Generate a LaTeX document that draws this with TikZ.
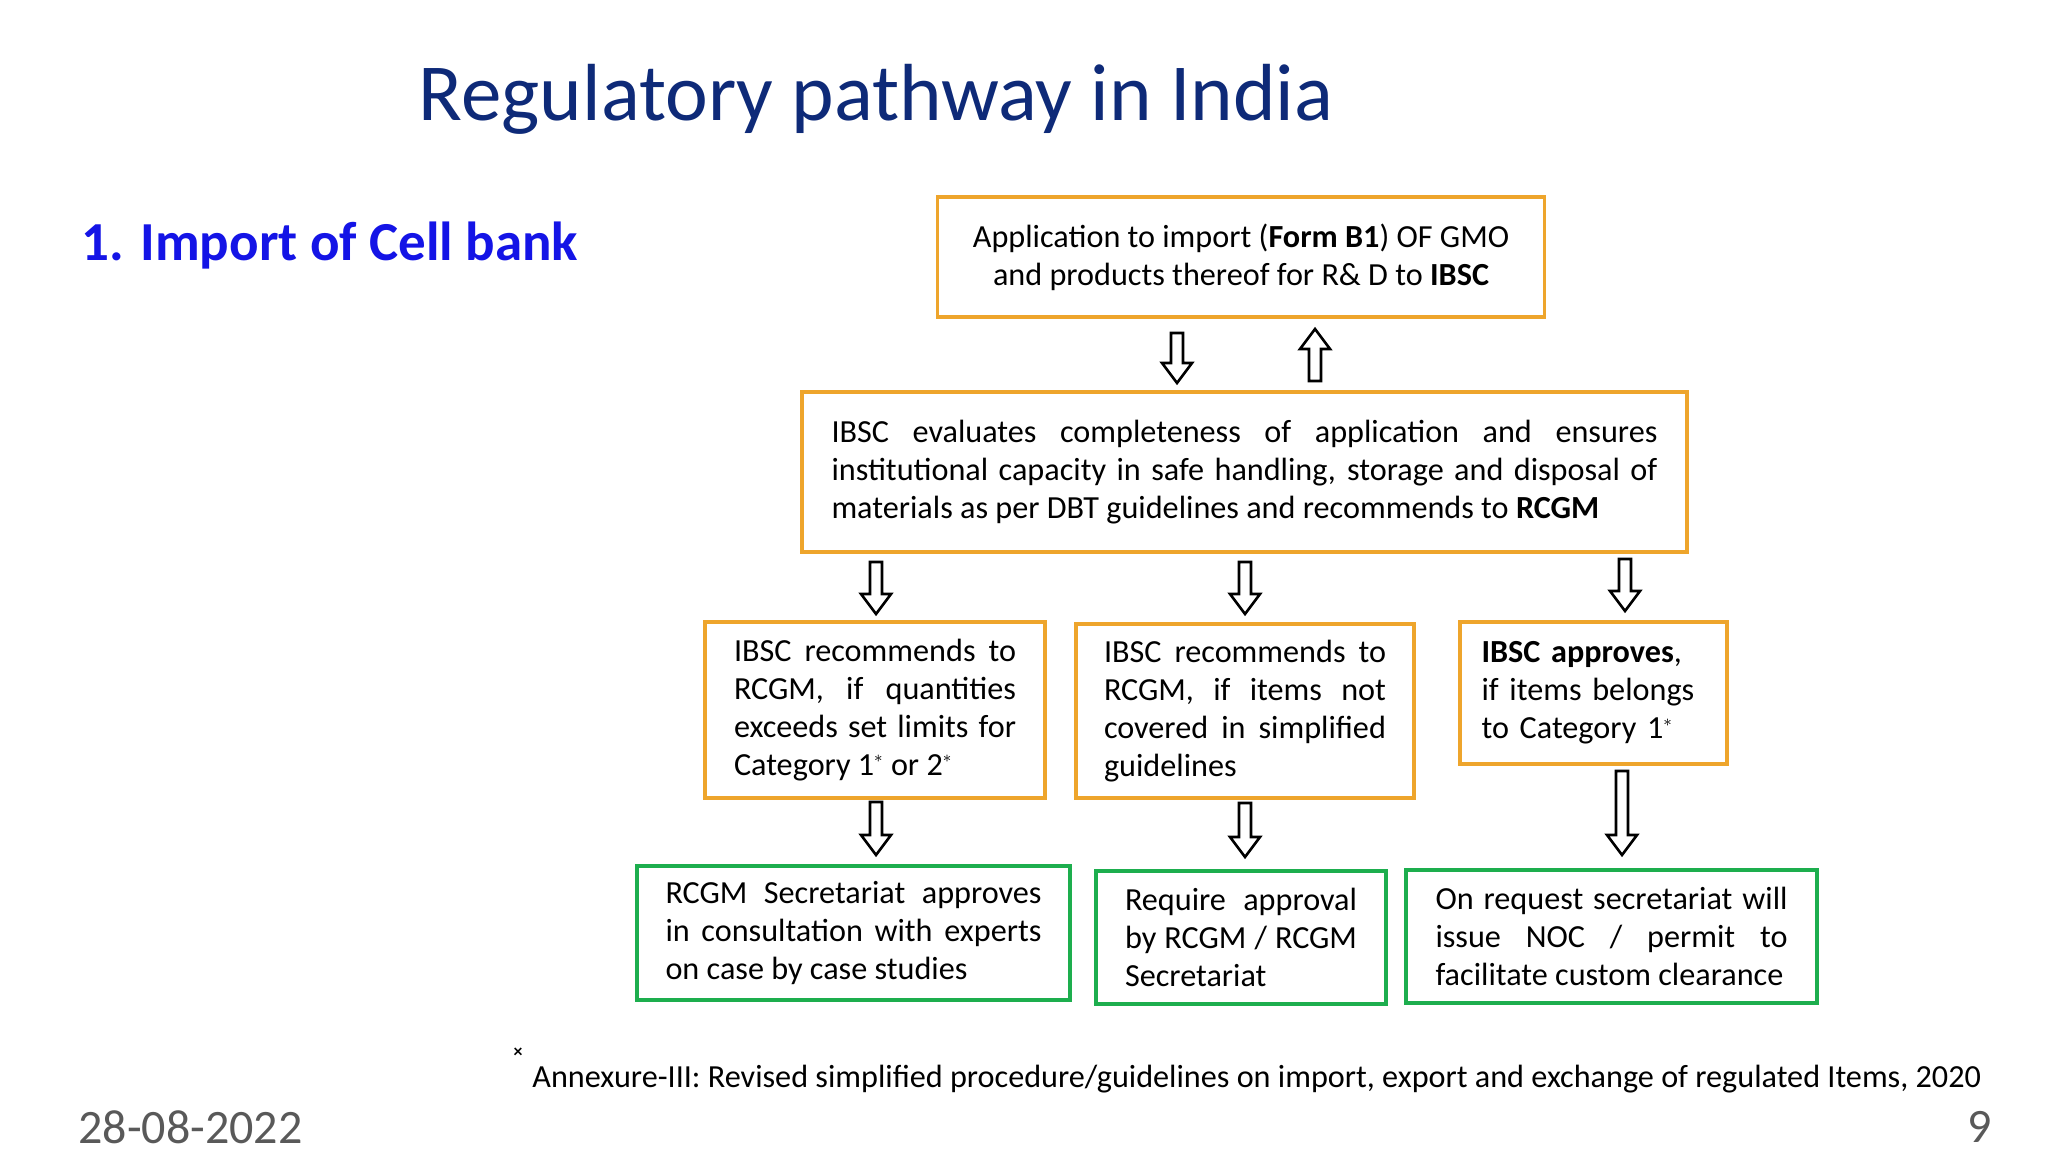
\documentclass[tikz,border=0pt]{standalone}
\usepackage{fontspec}
\setmainfont{Carlito}
\hyphenpenalty=10000
\definecolor{org}{HTML}{EEA52C}
\definecolor{grn}{HTML}{1DAE4E}
\definecolor{navy}{HTML}{0E2A78}
\definecolor{hblue}{HTML}{1414E6}
\definecolor{gry}{HTML}{595959}
\newcommand\barrow[4]{% x, ystart, yheadbase, yend
  \draw[line width=1.3pt,fill=white,line join=miter]
   (#1-6,#2) -- (#1-6,#3) -- (#1-15,#3) -- (#1,#4) -- (#1+15,#3) -- (#1+6,#3) -- (#1+6,#2) -- cycle;}
\newcommand\fnast{\textsuperscript{$\scriptstyle*$}}
\begin{document}
\begin{tikzpicture}[x=0.5pt,y=-0.5pt,
  box/.style={draw=org,line width=1.6pt,font=\fontsize{16.1}{19}\selectfont,inner sep=0pt},
  gbox/.style={box,draw=grn}]
\useasboundingbox (0,0) rectangle (2048,1152);
\node[font=\fontsize{40.5}{44}\selectfont,text=navy] (title) at (876,99) {Regulatory pathway in India};
\node[font=\fontsize{27.5}{30}\selectfont\bfseries,text=hblue,anchor=west,inner sep=0pt] (head) at (81,246) {1. Import of Cell bank};
\node[box,minimum width=303.5pt,minimum height=60pt,align=center] (A) at (1241,257)
 {Application to import (\textbf{Form B1}) OF GMO\\and products thereof for R\& D to \textbf{IBSC}};
\node[box,minimum width=442.5pt,minimum height=80pt,text width=413pt,align=justify] (B) at (1244.5,472)
 {IBSC evaluates completeness of application and ensures\linebreak institutional capacity in safe handling, storage and disposal of\linebreak materials as per DBT guidelines and recommends to \textbf{RCGM}};
\node[box,minimum width=170pt,minimum height=88pt,text width=141pt,align=justify] (C1) at (875,710)
 {IBSC recommends to\linebreak RCGM, if quantities\linebreak exceeds set limits for\linebreak Category 1\fnast{} or 2\fnast};
\node[box,minimum width=169pt,minimum height=87pt,text width=141pt,align=justify] (C2) at (1245,711)
 {IBSC recommends to\linebreak RCGM, if items not\linebreak covered in simplified\linebreak guidelines};
\node[box,minimum width=133.5pt,minimum height=71pt,text width=112pt,align=left] (C3) at (1593.5,693)
 {\textbf{IBSC approves},\\if items belongs\\to Category 1\fnast};
\node[gbox,minimum width=216.5pt,minimum height=67pt,text width=188pt,align=justify] (D1) at (853.5,933)
 {RCGM Secretariat approves\linebreak in consultation with experts\linebreak on case by case studies};
\node[gbox,minimum width=145pt,minimum height=66.5pt,text width=116pt,align=justify] (D2) at (1241,937.5)
 {Require approval\linebreak by RCGM / RCGM\linebreak Secretariat};
\node[gbox,minimum width=205.5pt,minimum height=66.5pt,text width=176pt,align=justify] (D3) at (1611.5,936.5)
 {On request secretariat will\linebreak issue NOC / permit to\linebreak facilitate custom clearance};
\barrow{1177}{333}{363}{383}
\barrow{1315}{381}{349}{329}
\barrow{876}{562}{594}{614}
\barrow{1245}{562}{594}{614}
\barrow{1625}{559}{591}{611}
\barrow{876}{802}{835}{855}
\barrow{1245}{803}{837}{857}
\barrow{1622}{771}{835}{855}
\node[font=\fontsize{9}{10}\selectfont\bfseries,anchor=center] (x) at (518,1053) {×};
\node[font=\fontsize{16.1}{18}\selectfont,anchor=west,inner sep=0pt] (foot) at (532,1079)
 {Annexure-III: Revised simplified procedure/guidelines on import, export and exchange of regulated Items, 2020};
\node[font=\fontsize{24}{26}\selectfont,text=gry,anchor=west,inner sep=0pt] (date) at (78,1127) {28-08-2022};
\node[font=\fontsize{24}{26}\selectfont,text=gry,anchor=east,inner sep=0pt] (pg) at (1992,1127) {9};
\end{tikzpicture}
\end{document}
